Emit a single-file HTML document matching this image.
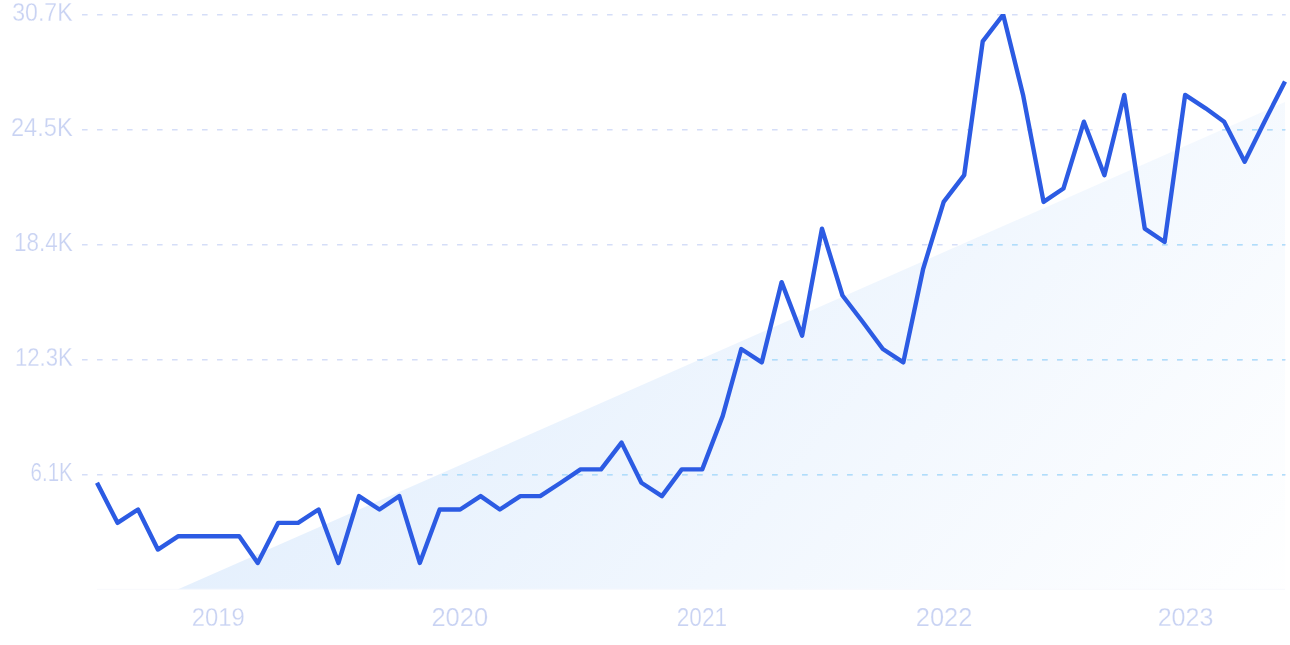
<!DOCTYPE html>
<html lang="en">
<head>
<meta charset="utf-8">
<title>Trend chart</title>
<style>
  html, body { margin:0; padding:0; background:#ffffff; }
  body { width:1290px; height:645px; overflow:hidden; }
  svg { display:block; }
  .lbl text { font-family:"Liberation Sans", sans-serif; font-size:25.2px; fill:#c9d3f3; stroke:#ffffff; stroke-width:0.25px; paint-order:fill stroke; }
</style>
</head>
<body>
<svg width="1290" height="645" viewBox="0 0 1290 645">
  <defs>
    <linearGradient id="trend" gradientUnits="userSpaceOnUse" x1="177" y1="589.7" x2="838.8" y2="1145.3">
      <stop offset="0" stop-color="#e5f0fd"/>
      <stop offset="1" stop-color="#ffffff"/>
    </linearGradient>
    <clipPath id="inTri"><path d="M177 589.7 L1285 102 L1285 589.7 Z"/></clipPath>
    <clipPath id="plot"><rect x="0" y="14" width="1290" height="631"/></clipPath>
  </defs>
  <rect x="0" y="0" width="1290" height="645" fill="#ffffff"/>
  <path d="M177 589.7 L1285 102 L1285 589.7 Z" fill="url(#trend)"/>
  <g fill="none" stroke-width="1.4" stroke-dasharray="5.6 9.4">
    <line x1="82" y1="14.7" x2="1285.7" y2="14.7" stroke="#d5def8"/>
    <line x1="82" y1="129.7" x2="1285.7" y2="129.7" stroke="#d5def8"/>
    <line x1="82" y1="244.7" x2="1285.7" y2="244.7" stroke="#d5def8"/>
    <line x1="82" y1="359.7" x2="1285.7" y2="359.7" stroke="#d5def8"/>
    <line x1="82" y1="474.7" x2="1285.7" y2="474.7" stroke="#d5def8"/>
  </g>
  <g fill="none" stroke-width="1.4" stroke-dasharray="5.6 9.4" clip-path="url(#inTri)">
    <line x1="82" y1="14.7" x2="1285.7" y2="14.7" stroke="#afdefb"/>
    <line x1="82" y1="129.7" x2="1285.7" y2="129.7" stroke="#afdefb"/>
    <line x1="82" y1="244.7" x2="1285.7" y2="244.7" stroke="#afdefb"/>
    <line x1="82" y1="359.7" x2="1285.7" y2="359.7" stroke="#afdefb"/>
    <line x1="82" y1="474.7" x2="1285.7" y2="474.7" stroke="#afdefb"/>
  </g>
  <line x1="97" y1="589.3" x2="1285" y2="589.3" stroke="#f8f9fd" stroke-width="1"/>
  <g clip-path="url(#plot)"><path d="M97.00 482.72 L117.51 522.84 L138.01 509.47 L157.86 549.58 L178.36 536.21 L198.20 536.21 L218.71 536.21 L239.22 536.21 L257.74 562.96 L278.24 522.84 L298.09 522.84 L318.59 509.47 L338.44 562.96 L358.94 496.10 L379.45 509.47 L399.29 496.10 L419.80 562.96 L439.64 509.47 L460.15 509.47 L480.65 496.10 L499.84 509.47 L520.34 496.10 L540.18 496.10 L560.69 482.72 L580.53 469.35 L601.04 469.35 L621.55 442.61 L641.39 482.72 L661.90 496.10 L681.74 469.35 L702.24 469.35 L722.75 415.86 L741.27 349.00 L761.78 362.37 L781.62 282.14 L802.13 335.63 L821.97 228.65 L842.48 295.51 L862.98 322.26 L882.83 349.00 L903.33 362.37 L923.18 268.77 L943.68 201.91 L964.19 175.17 L982.71 41.44 L1003.21 14.70 L1023.06 94.93 L1043.56 201.91 L1063.41 188.54 L1083.91 121.68 L1104.42 175.17 L1124.26 94.93 L1144.77 228.65 L1164.61 242.03 L1185.12 94.93 L1205.62 108.30 L1224.14 121.68 L1244.65 161.79 L1264.49 121.68 L1285.00 81.56" fill="none" stroke="#2c5be3" stroke-width="4.4" stroke-linejoin="round" stroke-linecap="butt"/></g>
  <g class="lbl" opacity="0.999">
    <text transform="translate(12.17 21.15) scale(0.9177 1)">30.7K</text>
    <text transform="translate(10.92 136.15) scale(0.9384 1)">24.5K</text>
    <text transform="translate(14.00 251.15) scale(0.8913 1)">18.4K</text>
    <text transform="translate(14.93 366.15) scale(0.8771 1)">12.3K</text>
    <text transform="translate(30.57 481.15) scale(0.8136 1)">6.1K</text>
    <text transform="translate(191.71 625.95) scale(0.9464 1)">2019</text>
    <text transform="translate(431.42 625.95) scale(1.0135 1)">2020</text>
    <text transform="translate(676.77 625.95) scale(0.8985 1)">2021</text>
    <text transform="translate(915.73 625.95) scale(1.0108 1)">2022</text>
    <text transform="translate(1157.65 625.95) scale(0.9949 1)">2023</text>
  </g>
</svg>
</body>
</html>
